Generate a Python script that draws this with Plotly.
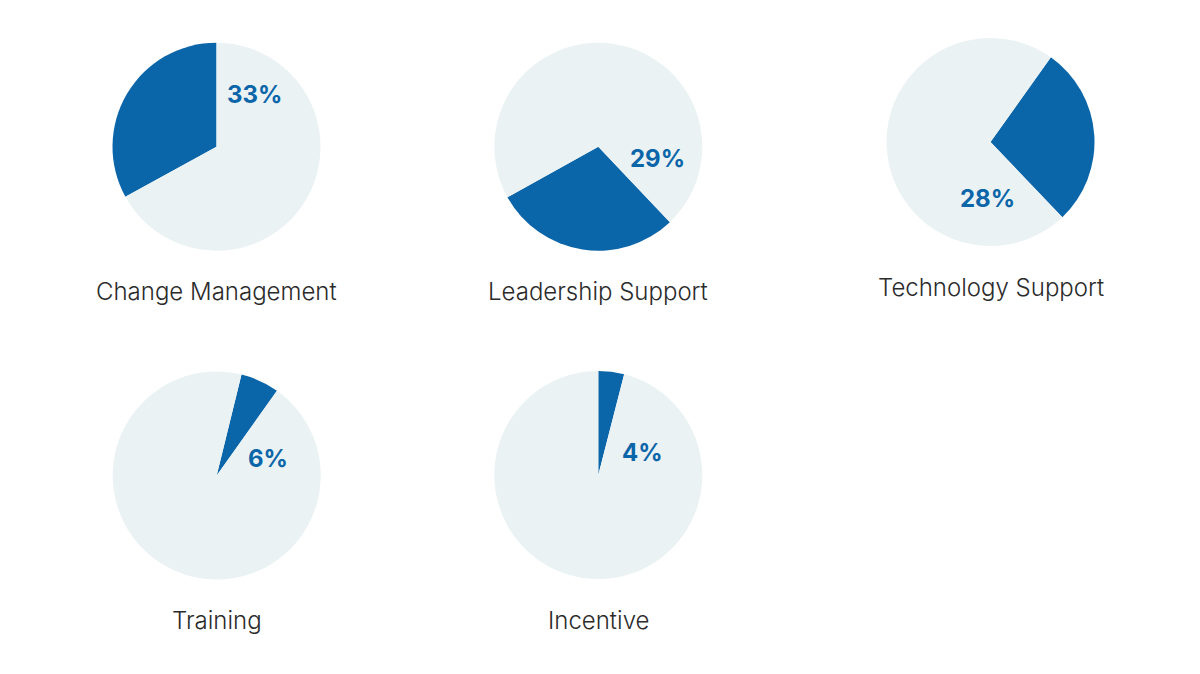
import plotly.graph_objects as go

# ---- data ----
categories = ["Change Management", "Leadership Support", "Technology Support", "Training", "Incentive"]
shares = [33, 29, 28, 6, 4]
pct_labels = ["33%", "29%", "28%", "6%", "4%"]

# ---- styling / layout ----
W, H = 1200, 674
R = 104
centers = [(216.5, 146.7), (598.3, 146.7), (990.5, 142.0), (216.7, 475.5), (598.3, 475.0)]
rotations = [-118.8, 136.5, 35.5, 13.8, 0]
label_pos = [(254, 94), (657.5, 158), (987.7, 199), (268.3, 458.5), (642, 452.5)]
title_pos = [(216.5, 291), (598.3, 291), (990.8, 287), (217, 620), (598.3, 620)]

DARK = "#0b65a9"
LIGHT = "#eaf2f4"
TEXT = "#2b2b2b"

fig = go.Figure()
for i, (cat, v) in enumerate(zip(categories, shares)):
    cx, cy = centers[i]
    fig.add_trace(go.Pie(
        values=[v, 100 - v],
        labels=[cat, "Other"],
        sort=False,
        direction="clockwise",
        rotation=rotations[i],
        marker=dict(colors=[DARK, LIGHT], line=dict(width=0)),
        textinfo="none",
        hoverinfo="skip",
        showlegend=False,
        domain=dict(x=[(cx - R) / W, (cx + R) / W], y=[1 - (cy + R) / H, 1 - (cy - R) / H]),
    ))

annotations = []
for i in range(len(categories)):
    lx, ly = label_pos[i]
    annotations.append(dict(
        x=lx / W, y=1 - ly / H, xref="paper", yref="paper",
        xanchor="center", yanchor="middle", showarrow=False,
        text=pct_labels[i],
        font=dict(family="Inter, 'Open Sans', sans-serif", size=24, color=DARK, weight="bold"),
    ))
    tx, ty = title_pos[i]
    annotations.append(dict(
        x=tx / W, y=1 - ty / H, xref="paper", yref="paper",
        xanchor="center", yanchor="middle", showarrow=False,
        text=categories[i],
        font=dict(family="Inter, 'Open Sans', sans-serif", size=24, color=TEXT, weight=300),
    ))

fig.update_layout(
    width=W, height=H,
    margin=dict(l=0, r=0, t=0, b=0),
    paper_bgcolor="white", plot_bgcolor="white",
    annotations=annotations,
)

fig.write_html("out.html", config={"displayModeBar": False},
               post_script="document.body.style.margin='0';")
